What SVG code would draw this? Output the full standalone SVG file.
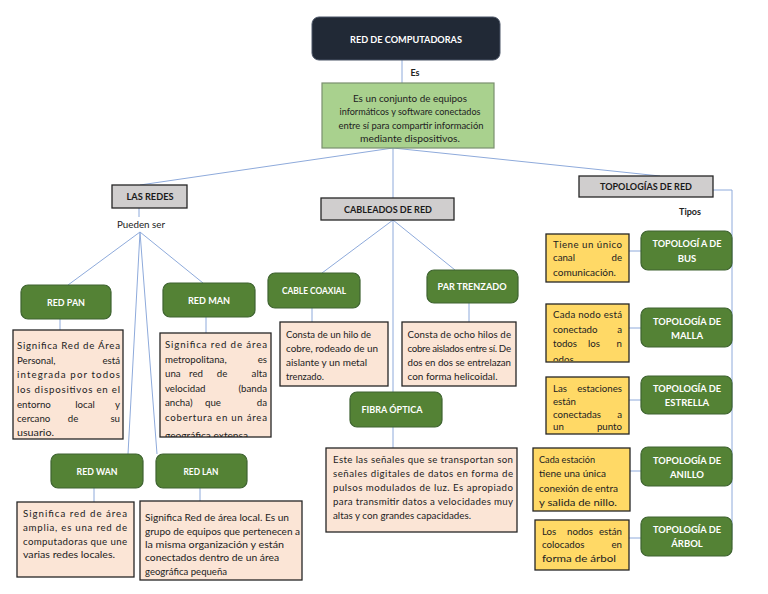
<svg xmlns="http://www.w3.org/2000/svg" width="768" height="594" viewBox="0 0 768 594">
<style>
text{font-family:Lato,"Liberation Sans",sans-serif}
.con{fill:none;stroke:#8eaadb;stroke-width:1}
.gn{fill:#548235;stroke:#3e6330;stroke-width:1.2}
.gt{fill:#fff;font-size:9.5px;font-weight:bold;text-anchor:middle}
.gray{fill:#d0cece;stroke:#262626;stroke-width:1.3}
.bt{fill:#1a1a1a;font-size:9.5px;font-weight:bold;text-anchor:middle}
.pe{fill:#fbe5d6;stroke:#262626;stroke-width:1.3}
.ye{fill:#ffd966;stroke:#262626;stroke-width:1.3}
.d{fill:#222;font-size:9.7px}
.e{text-anchor:end}
.m{text-anchor:middle}
.lb{fill:#222;font-size:9px;text-anchor:middle}
</style>
<defs>
<clipPath id="cMan"><rect x="160" y="333" width="111" height="104"/></clipPath>
<clipPath id="cMalla"><rect x="546" y="304" width="83" height="57"/></clipPath>
<clipPath id="cEst"><rect x="546" y="377" width="83" height="56"/></clipPath>
</defs>

<g id="connectors">
<line class="con" x1="402" y1="60" x2="402" y2="83"/>
<line class="con" x1="393" y1="148" x2="140" y2="185"/>
<line class="con" x1="393" y1="148" x2="393" y2="198"/>
<line class="con" x1="393" y1="148" x2="660" y2="176"/>
<line class="con" x1="139" y1="208" x2="139" y2="217"/>
<line class="con" x1="140" y1="232" x2="68" y2="285"/>
<line class="con" x1="140" y1="232" x2="203" y2="283"/>
<line class="con" x1="140" y1="232" x2="128" y2="454"/>
<line class="con" x1="140" y1="232" x2="157" y2="454"/>
<line class="con" x1="60" y1="319" x2="60" y2="330"/>
<line class="con" x1="206" y1="317" x2="206" y2="333"/>
<line class="con" x1="94" y1="488" x2="94" y2="502"/>
<line class="con" x1="200" y1="488" x2="200" y2="501"/>
<line class="con" x1="393" y1="220" x2="322" y2="273"/>
<line class="con" x1="393" y1="220" x2="455" y2="270"/>
<line class="con" x1="393" y1="220" x2="393" y2="392"/>
<line class="con" x1="312" y1="308" x2="312" y2="322"/>
<line class="con" x1="469" y1="303" x2="469" y2="322"/>
<line class="con" x1="393" y1="427" x2="393" y2="448"/>
<polyline class="con" points="713,190 732,190 732,540"/>
<line class="con" x1="629" y1="251" x2="641" y2="251"/>
<line class="con" x1="629" y1="328" x2="641" y2="328"/>
<line class="con" x1="629" y1="400" x2="641" y2="400"/>
<line class="con" x1="630" y1="471" x2="641" y2="471"/>
<line class="con" x1="629" y1="538" x2="641" y2="538"/>
<text class="lb" x="415" y="76" font-weight="bold">Es</text>
<text class="lb" x="141" y="228" textLength="48" lengthAdjust="spacingAndGlyphs">Pueden ser</text>
<text class="lb" x="690" y="215" font-weight="bold">Tipos</text>
</g>

<g id="red-computadoras">
<rect x="312" y="17" width="188" height="43" rx="7" fill="#212936" stroke="#4a5466" stroke-width="1"/>
<text class="gt" x="406" y="42.5" textLength="112" lengthAdjust="spacingAndGlyphs">RED DE COMPUTADORAS</text>
</g>

<g id="definicion">
<rect x="322" y="83" width="172" height="65" fill="#a9d18e" stroke="#7b8f6e" stroke-width="1.2"/>
<text class="d m" x="410" y="101.5" textLength="114" lengthAdjust="spacingAndGlyphs">Es un conjunto de equipos</text>
<text class="d m" x="410" y="115" textLength="141" lengthAdjust="spacingAndGlyphs">informáticos y software conectados</text>
<text class="d m" x="411" y="128.5" textLength="145" lengthAdjust="spacingAndGlyphs">entre sí para compartir información</text>
<text class="d m" x="410" y="142" textLength="100" lengthAdjust="spacingAndGlyphs">mediante dispositivos.</text>
</g>

<g id="las-redes">
<rect class="gray" x="112" y="185" width="75" height="23"/>
<text class="bt" x="150" y="200" textLength="47" lengthAdjust="spacingAndGlyphs">LAS REDES</text>
</g>

<g id="cableados">
<rect class="gray" x="321" y="198" width="133" height="22"/>
<text class="bt" x="388" y="212.5" textLength="88" lengthAdjust="spacingAndGlyphs">CABLEADOS DE RED</text>
</g>

<g id="topologias">
<rect class="gray" x="579" y="176" width="134" height="21"/>
<text class="bt" x="646" y="190" textLength="92" lengthAdjust="spacingAndGlyphs">TOPOLOGÍAS DE RED</text>
</g>

<g id="red-pan">
<rect class="gn" x="21" y="285" width="90" height="34" rx="7"/>
<text class="gt" x="66" y="305.5" textLength="38" lengthAdjust="spacingAndGlyphs">RED PAN</text>
<rect class="pe" x="13" y="330" width="110" height="109"/>
<text class="d" x="17" y="348.5" textLength="103" lengthAdjust="spacing">Significa Red de Área</text>
<text class="d" x="17" y="363.5">Personal,</text><text class="d e" x="120" y="363.5">está</text>
<text class="d" x="17" y="378" textLength="103" lengthAdjust="spacing">integrada por todos</text>
<text class="d" x="17" y="393" textLength="103" lengthAdjust="spacing">los dispositivos en el</text>
<text class="d" x="17" y="407.5">entorno</text><text class="d m" x="85" y="407.5">local</text><text class="d e" x="120" y="407.5">y</text>
<text class="d" x="17" y="421.5">cercano</text><text class="d m" x="73" y="421.5">de</text><text class="d e" x="120" y="421.5">su</text>
<text class="d" x="17" y="436" textLength="37" lengthAdjust="spacingAndGlyphs">usuario.</text>
</g>

<g id="red-man">
<rect class="gn" x="163" y="283" width="92" height="34" rx="7"/>
<text class="gt" x="209" y="303.5" textLength="42" lengthAdjust="spacingAndGlyphs">RED MAN</text>
<rect class="pe" x="160" y="333" width="111" height="104"/>
<g clip-path="url(#cMan)">
<text class="d" x="165" y="347.5" textLength="102" lengthAdjust="spacing">Significa red de área</text>
<text class="d" x="165" y="362.5">metropolitana,</text><text class="d e" x="267" y="362.5">es</text>
<text class="d" x="165" y="376.5">una</text><text class="d m" x="196" y="376.5">red</text><text class="d m" x="222" y="376.5">de</text><text class="d e" x="267" y="376.5">alta</text>
<text class="d" x="165" y="391.5">velocidad</text><text class="d e" x="267" y="391.5">(banda</text>
<text class="d" x="165" y="405.5">ancha)</text><text class="d m" x="213" y="405.5">que</text><text class="d e" x="267" y="405.5">da</text>
<text class="d" x="165" y="420.5" textLength="102" lengthAdjust="spacing">cobertura en un área</text>
<text class="d" x="165" y="439" textLength="83" lengthAdjust="spacingAndGlyphs">geográfica extensa</text>
</g>
</g>

<g id="red-wan">
<rect class="gn" x="51" y="454" width="92" height="34" rx="7"/>
<text class="gt" x="97" y="474.5" textLength="41" lengthAdjust="spacingAndGlyphs">RED WAN</text>
<rect class="pe" x="17" y="502" width="117" height="75"/>
<text class="d" x="23" y="516.5" textLength="104" lengthAdjust="spacing">Significa red de área</text>
<text class="d" x="23" y="530.5" textLength="104" lengthAdjust="spacing">amplia, es una red de</text>
<text class="d" x="23" y="544.5" textLength="104" lengthAdjust="spacing">computadoras que une</text>
<text class="d" x="23" y="557.5" textLength="92" lengthAdjust="spacingAndGlyphs">varias redes locales.</text>
</g>

<g id="red-lan">
<rect class="gn" x="156" y="454" width="91" height="34" rx="7"/>
<text class="gt" x="201" y="474.5" textLength="35" lengthAdjust="spacingAndGlyphs">RED LAN</text>
<rect class="pe" x="140" y="501" width="162" height="79"/>
<text class="d" x="145" y="520.5" textLength="144" lengthAdjust="spacingAndGlyphs">Significa Red de área local. Es un</text>
<text class="d" x="145" y="534.5" textLength="155" lengthAdjust="spacingAndGlyphs">grupo de equipos que pertenecen a</text>
<text class="d" x="145" y="547.5" textLength="139" lengthAdjust="spacingAndGlyphs">la misma organización y están</text>
<text class="d" x="145" y="560.5" textLength="134" lengthAdjust="spacingAndGlyphs">conectados dentro de un área</text>
<text class="d" x="145" y="574.5" textLength="82" lengthAdjust="spacingAndGlyphs">geográfica pequeña</text>
</g>

<g id="cable-coaxial">
<rect class="gn" x="268" y="273" width="92" height="35" rx="7"/>
<text class="gt" x="314" y="294" textLength="64" lengthAdjust="spacingAndGlyphs">CABLE COAXIAL</text>
<rect class="pe" x="280" y="322" width="108" height="64"/>
<text class="d" x="286" y="337.5" textLength="85" lengthAdjust="spacingAndGlyphs">Consta de un hilo de</text>
<text class="d" x="286" y="351.5" textLength="92" lengthAdjust="spacingAndGlyphs">cobre, rodeado de un</text>
<text class="d" x="286" y="365.5" textLength="81" lengthAdjust="spacingAndGlyphs">aislante y un metal</text>
<text class="d" x="286" y="379.5" textLength="38" lengthAdjust="spacingAndGlyphs">trenzado.</text>
</g>

<g id="par-trenzado">
<rect class="gn" x="427" y="270" width="91" height="33" rx="7"/>
<text class="gt" x="472" y="290" textLength="69" lengthAdjust="spacingAndGlyphs">PAR TRENZADO</text>
<rect class="pe" x="402" y="322" width="114" height="64"/>
<text class="d" x="407.5" y="337.5" textLength="103.5" lengthAdjust="spacing">Consta de ocho hilos de</text>
<text class="d" x="407.5" y="351.5" textLength="103.5" lengthAdjust="spacing">cobre aislados entre sí. De</text>
<text class="d" x="407.5" y="365.5" textLength="103.5" lengthAdjust="spacing">dos en dos se entrelazan</text>
<text class="d" x="407.5" y="379.5" textLength="90" lengthAdjust="spacingAndGlyphs">con forma helicoidal.</text>
</g>

<g id="fibra-optica">
<rect class="gn" x="350" y="392" width="92" height="35" rx="7"/>
<text class="gt" x="392" y="413" textLength="61" lengthAdjust="spacingAndGlyphs">FIBRA ÓPTICA</text>
<rect class="pe" x="326" y="448" width="191" height="84"/>
<text class="d" x="333" y="462.5" textLength="180" lengthAdjust="spacing">Este las señales que se transportan son</text>
<text class="d" x="333" y="476.5" textLength="180" lengthAdjust="spacing">señales digitales de datos en forma de</text>
<text class="d" x="333" y="490.5" textLength="180" lengthAdjust="spacing">pulsos modulados de luz. Es apropiado</text>
<text class="d" x="333" y="504.5" textLength="180" lengthAdjust="spacing">para transmitir datos a velocidades muy</text>
<text class="d" x="333" y="518.5" textLength="138" lengthAdjust="spacingAndGlyphs">altas y con grandes capacidades.</text>
</g>

<g id="topologia-bus">
<rect class="gn" x="641" y="231" width="91" height="39" rx="7"/>
<text class="gt" x="687" y="246.5" textLength="69" lengthAdjust="spacingAndGlyphs">TOPOLOGÍ A DE</text>
<text class="gt" x="687" y="261.5">BUS</text>
<rect class="ye" x="546" y="234" width="83" height="48"/>
<text class="d" x="553" y="247.5" textLength="69" lengthAdjust="spacing">Tiene un único</text>
<text class="d" x="553" y="260.5">canal</text><text class="d e" x="622" y="260.5">de</text>
<text class="d" x="553" y="275.5" textLength="63" lengthAdjust="spacingAndGlyphs">comunicación.</text>
</g>

<g id="topologia-malla">
<rect class="gn" x="641" y="308" width="91" height="39" rx="7"/>
<text class="gt" x="687" y="324.5" textLength="68" lengthAdjust="spacingAndGlyphs">TOPOLOGÍA DE</text>
<text class="gt" x="687" y="338.5">MALLA</text>
<rect class="ye" x="546" y="304" width="83" height="58"/>
<g clip-path="url(#cMalla)">
<text class="d" x="553" y="317.5" textLength="69" lengthAdjust="spacing">Cada nodo está</text>
<text class="d" x="553" y="332.5">conectado</text><text class="d e" x="622" y="332.5">a</text>
<text class="d" x="553" y="346.5">todos</text><text class="d m" x="594" y="346.5">los</text><text class="d e" x="622" y="346.5">n</text>
<text class="d" x="553" y="363">odos</text>
</g>
</g>

<g id="topologia-estrella">
<rect class="gn" x="641" y="376" width="91" height="38" rx="7"/>
<text class="gt" x="687" y="391.5" textLength="68" lengthAdjust="spacingAndGlyphs">TOPOLOGÍA DE</text>
<text class="gt" x="687" y="405.5">ESTRELLA</text>
<rect class="ye" x="546" y="377" width="83" height="57"/>
<g clip-path="url(#cEst)">
<text class="d" x="553" y="391.5">Las</text><text class="d e" x="622" y="391.5">estaciones</text>
<text class="d" x="553" y="404.5">están</text>
<text class="d" x="553" y="417.5">conectadas</text><text class="d e" x="622" y="417.5">a</text>
<text class="d" x="553" y="430">un</text><text class="d e" x="622" y="430">punto</text>
</g>
</g>

<g id="topologia-anillo">
<rect class="gn" x="641" y="447" width="91" height="39" rx="7"/>
<text class="gt" x="687" y="463.5" textLength="68" lengthAdjust="spacingAndGlyphs">TOPOLOGÍA DE</text>
<text class="gt" x="687" y="477.5">ANILLO</text>
<rect class="ye" x="533" y="448" width="97" height="63"/>
<text class="d" x="539" y="462.5" textLength="56" lengthAdjust="spacingAndGlyphs">Cada estación</text>
<text class="d" x="539" y="476.5" textLength="67" lengthAdjust="spacingAndGlyphs">tiene una única</text>
<text class="d" x="539" y="491.5" textLength="79" lengthAdjust="spacingAndGlyphs">conexión de entra</text>
<text class="d" x="539" y="505.5" textLength="78" lengthAdjust="spacingAndGlyphs">y salida de nillo.</text>
</g>

<g id="topologia-arbol">
<rect class="gn" x="641" y="517" width="91" height="39" rx="7"/>
<text class="gt" x="687" y="532.5" textLength="68" lengthAdjust="spacingAndGlyphs">TOPOLOGÍA DE</text>
<text class="gt" x="687" y="546.5">ÁRBOL</text>
<rect class="ye" x="535" y="520" width="94" height="50"/>
<text class="d" x="542" y="534.5">Los</text><text class="d m" x="580" y="534.5">nodos</text><text class="d e" x="622" y="534.5">están</text>
<text class="d" x="542" y="547.5">colocados</text><text class="d e" x="622" y="547.5">en</text>
<text class="d" x="542" y="561.5" textLength="74" lengthAdjust="spacingAndGlyphs">forma de árbol</text>
</g>
</svg>
